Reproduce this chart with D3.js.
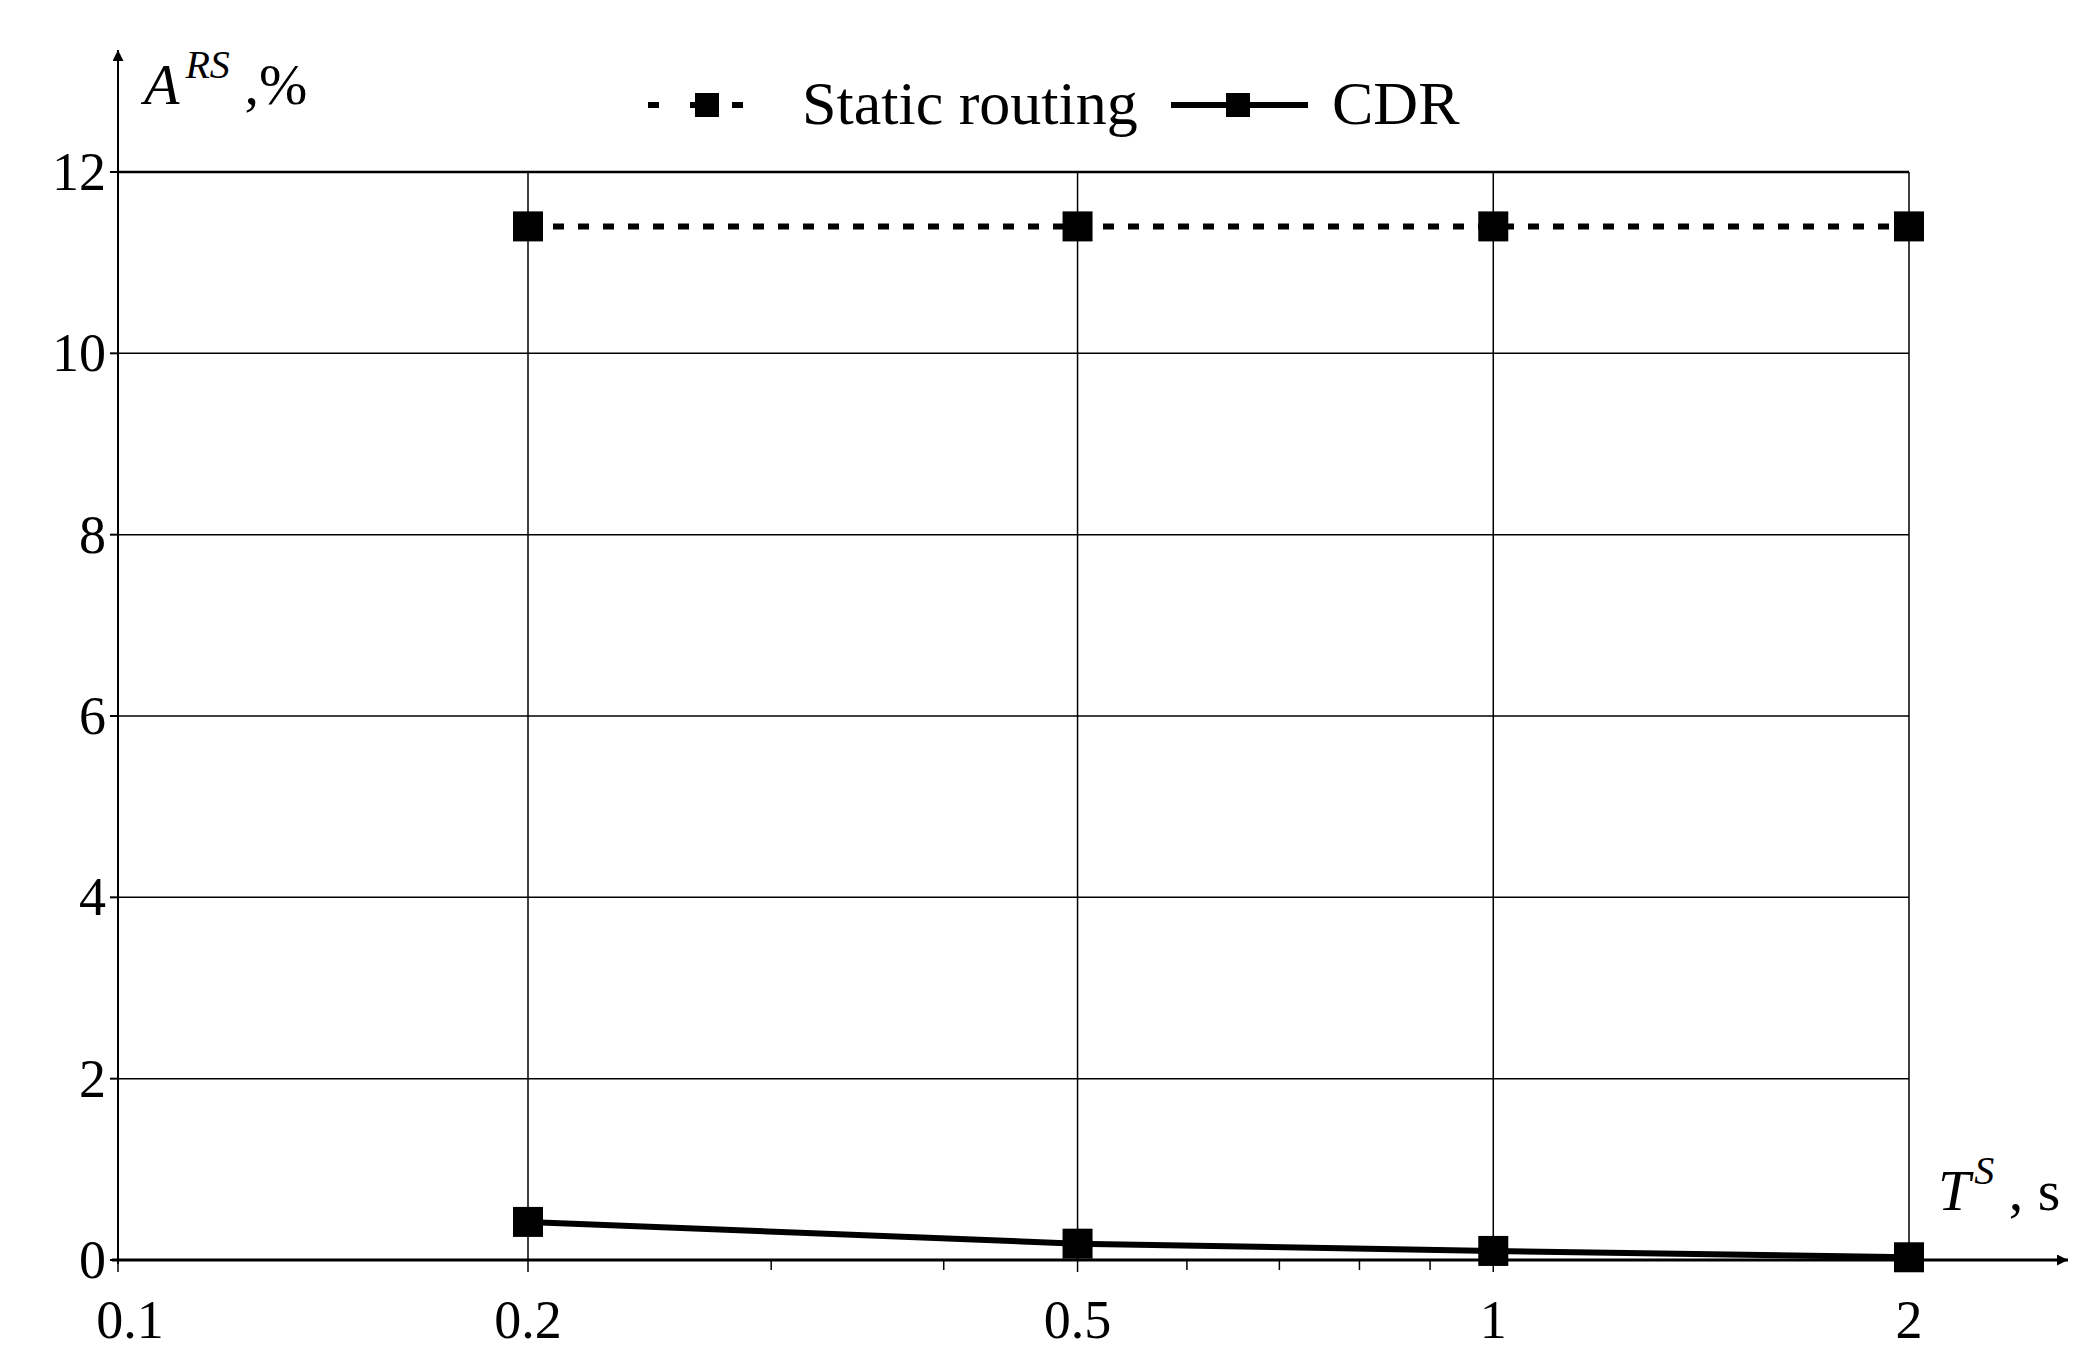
<!DOCTYPE html>
<html><head><meta charset="utf-8">
<script src="https://cdn.jsdelivr.net/npm/d3@7"></script>
<style>body{margin:0;background:#fff}text{font-family:"Liberation Serif",serif}</style>
</head><body>
<script>
var xs = [0.2, 0.5, 1, 2]
var staticVals = [11.4, 11.4, 11.4, 11.4]
var cdrVals = [0.42, 0.18, 0.1, 0.03]
var yTicks = [0, 2, 4, 6, 8, 10, 12]
var xTicks = [0.1, 0.2, 0.5, 1, 2]
var minorTicks = [0.3, 0.4, 0.6, 0.7, 0.8, 0.9]

var W = 2100, H = 1369
var svg = d3.select("body").append("svg").attr("width", W).attr("height", H)

var x = d3.scaleLog().domain([0.2, 2]).range([528, 1909])
var y = d3.scaleLinear().domain([0, 12]).range([1260, 172])
var x0 = 118

// grid
svg.selectAll(".hg").data(yTicks.slice(1)).enter().append("line")
    .attr("x1", x0).attr("x2", x(2)).attr("y1", d => y(d)).attr("y2", d => y(d))
    .attr("stroke", "#000").attr("stroke-width", d => d == 12 ? 2.5 : 1.5)
svg.selectAll(".vg").data(xs).enter().append("line")
    .attr("x1", d => x(d)).attr("x2", d => x(d)).attr("y1", y(12)).attr("y2", y(0))
    .attr("stroke", "#000").attr("stroke-width", 1.5)

// axes with arrows
svg.append("defs").append("marker").attr("id", "arr").attr("viewBox", "0 0 10 10")
    .attr("refX", 10).attr("refY", 5).attr("markerWidth", 16).attr("markerHeight", 11)
    .attr("markerUnits", "userSpaceOnUse").attr("orient", "auto")
    .append("path").attr("d", "M0,0L10,5L0,10z")
svg.append("line").attr("x1", x0).attr("x2", x0).attr("y1", y(0) + 4).attr("y2", 50)
    .attr("stroke", "#000").attr("stroke-width", 2).attr("marker-end", "url(#arr)")
svg.append("line").attr("x1", x0 - 6).attr("x2", 2068).attr("y1", y(0)).attr("y2", y(0))
    .attr("stroke", "#000").attr("stroke-width", 3).attr("marker-end", "url(#arr)")

// ticks
svg.selectAll(".yt").data(yTicks).enter().append("line")
    .attr("x1", x0 - 8).attr("x2", x0).attr("y1", d => y(d)).attr("y2", d => y(d)).attr("stroke", "#000").attr("stroke-width", 2)
svg.selectAll(".ytl").data(yTicks).enter().append("text")
    .attr("x", x0 - 12).attr("y", d => y(d) + 18).attr("text-anchor", "end").attr("font-size", 54).text(d => d)
var xt = d => d == 0.1 ? x0 : x(d)
svg.selectAll(".xt").data(xTicks).enter().append("line")
    .attr("x1", xt).attr("x2", xt).attr("y1", y(0)).attr("y2", y(0) + 12).attr("stroke", "#000").attr("stroke-width", 1.5)
svg.selectAll(".xm").data(minorTicks).enter().append("line")
    .attr("x1", d => x(d)).attr("x2", d => x(d)).attr("y1", y(0)).attr("y2", y(0) + 10).attr("stroke", "#000").attr("stroke-width", 1.5)
svg.selectAll(".xtl").data(xTicks).enter().append("text")
    .attr("x", d => xt(d) + (d == 0.1 ? 12 : 0)).attr("y", y(0) + 78).attr("text-anchor", "middle").attr("font-size", 54).text(d => d)

// series
var line = d3.line().x(d => x(d[0])).y(d => y(d[1]))
svg.append("path").attr("d", line(d3.zip(xs, staticVals))).attr("fill", "none")
    .attr("stroke", "#000").attr("stroke-width", 6).attr("stroke-dasharray", "11,14")
svg.append("path").attr("d", line(d3.zip(xs, cdrVals))).attr("fill", "none")
    .attr("stroke", "#000").attr("stroke-width", 6)
var sq = 30
;[staticVals, cdrVals].forEach(function(v) {
    svg.selectAll(null).data(d3.zip(xs, v)).enter().append("rect")
        .attr("x", d => x(d[0]) - sq / 2).attr("y", d => y(d[1]) - sq / 2)
        .attr("width", sq).attr("height", sq).attr("fill", "#000")
})

// legend
var ly = 105
svg.append("line").attr("x1", 648).attr("x2", 774).attr("y1", ly).attr("y2", ly)
    .attr("stroke", "#000").attr("stroke-width", 6).attr("stroke-dasharray", "11,31")
svg.append("rect").attr("x", 695).attr("y", ly - 12).attr("width", 24).attr("height", 24)
svg.append("text").attr("x", 802).attr("y", ly + 19).attr("font-size", 62).text("Static routing")
svg.append("line").attr("x1", 1171).attr("x2", 1308).attr("y1", ly).attr("y2", ly)
    .attr("stroke", "#000").attr("stroke-width", 6)
svg.append("rect").attr("x", 1226).attr("y", ly - 12).attr("width", 24).attr("height", 24)
svg.append("text").attr("x", 1332).attr("y", ly + 19).attr("font-size", 62).text("CDR")

// axis labels
var yl = svg.append("text").attr("x", 144).attr("y", 104).attr("font-size", 58)
yl.append("tspan").attr("font-style", "italic").text("A")
yl.append("tspan").attr("font-style", "italic").attr("font-size", 40).attr("dy", -26).attr("dx", 6).text("RS")
yl.append("tspan").attr("dy", 26).text(" ,%")
var xl = svg.append("text").attr("x", 1938).attr("y", 1210).attr("font-size", 58)
xl.append("tspan").attr("font-style", "italic").text("T")
xl.append("tspan").attr("font-style", "italic").attr("font-size", 40).attr("dy", -26).attr("dx", 4).text("S")
xl.append("tspan").attr("dy", 26).text(" , s")
</script>
</body></html>
